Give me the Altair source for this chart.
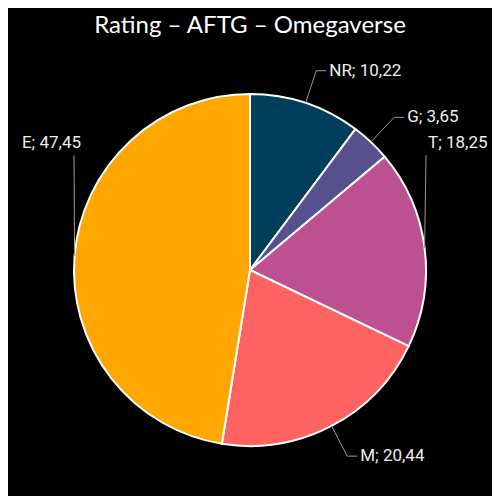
import altair as alt
import pandas as pd

categories = ["NR", "G", "T", "M", "E"]
values = [10.22, 3.65, 18.25, 20.44, 47.45]
colors = ["#003f5c", "#58508d", "#bc5090", "#ff6361", "#ffa600"]
labels = [f"{c}; {v:.2f}".replace(".", ",") for c, v in zip(categories, values)]

df = pd.DataFrame({
    "cat": categories,
    "value": values,
    "label": labels,
    "order": list(range(len(categories))),
})

W, H = 484, 452
R = 176      # pie radius
RE = 210     # radius of leader-line elbows

xs = alt.Scale(domain=[-W / 2, W / 2], nice=False, zero=False)
ys = alt.Scale(domain=[-H / 2, H / 2], nice=False, zero=False)

base = alt.Chart(df).transform_window(
    cum="sum(value)", sort=[alt.SortField("order")], frame=[None, 0]
).transform_joinaggregate(
    total="sum(value)"
).transform_calculate(
    a="2*PI*(datum.cum - datum.value/2)/datum.total"
).transform_calculate(
    ex=f"{R}*sin(datum.a)",
    ey=f"{R}*cos(datum.a)",
    rx=f"{RE}*sin(datum.a)",
    side="sin(datum.a) >= 0 ? 1 : -1",
).transform_calculate(
    clamped=f"abs(datum.rx) > {R}",
    bx=f"max(-{R}, min({R}, datum.rx))",
).transform_calculate(
    by=f"(cos(datum.a) >= 0 ? 1 : -1) * sqrt({RE}*{RE} - datum.bx*datum.bx)",
    hx="datum.bx + (datum.clamped ? 0 : 10*datum.side)",
).transform_calculate(
    tx="datum.clamped ? datum.bx + (datum.side > 0 ? 2 : 7) : datum.hx + 3*datum.side",
    ty="datum.clamped ? datum.by + 12 : datum.by",
)

arc = alt.Chart(df).mark_arc(outerRadius=R, stroke="white", strokeWidth=2).encode(
    theta=alt.Theta("value:Q", stack=True),
    color=alt.Color("cat:N", scale=alt.Scale(domain=categories, range=colors), legend=None),
    order=alt.Order("order:Q"),
)

line1 = base.mark_rule(color="#9a9a9a", strokeWidth=1).encode(
    x=alt.X("ex:Q", scale=xs, axis=None),
    y=alt.Y("ey:Q", scale=ys, axis=None),
    x2="bx:Q",
    y2="by:Q",
)
line2 = base.mark_rule(color="#9a9a9a", strokeWidth=1).encode(
    x=alt.X("bx:Q", scale=xs, axis=None),
    y=alt.Y("by:Q", scale=ys, axis=None),
    x2="hx:Q",
    y2="by:Q",
)

txt_style = dict(font="Roboto", fontSize=17, color="#eeeeee", baseline="middle")
text_r = base.transform_filter("datum.side > 0").mark_text(align="left", **txt_style).encode(
    x=alt.X("tx:Q", scale=xs, axis=None),
    y=alt.Y("ty:Q", scale=ys, axis=None),
    text="label:N",
)
text_l = base.transform_filter("datum.side < 0").mark_text(align="right", **txt_style).encode(
    x=alt.X("tx:Q", scale=xs, axis=None),
    y=alt.Y("ty:Q", scale=ys, axis=None),
    text="label:N",
)

chart = alt.layer(arc, line1, line2, text_r, text_l).properties(
    width=W,
    height=H,
    background="black",
    padding={"left": 0, "top": 36, "right": 0, "bottom": 0},
    autosize=alt.AutoSizeParams(type="none"),
    title=alt.TitleParams(
        "Rating – AFTG – Omegaverse",
        color="white",
        font="Lato",
        fontSize=24,
        fontWeight="normal",
        anchor="middle",
        offset=6,
    ),
).configure_view(stroke=None)

chart.save("out.html", embed_options={"renderer": "svg", "actions": False})
